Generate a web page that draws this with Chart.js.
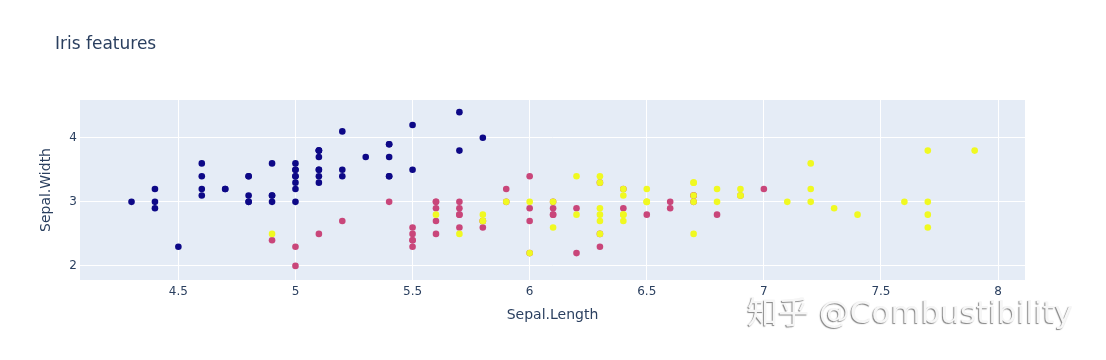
<!DOCTYPE html>
<html>
<head>
<meta charset="utf-8">
<script src="https://cdn.jsdelivr.net/npm/chart.js@4.4.1/dist/chart.umd.min.js"></script>
<style>
  body { margin: 0; background: #fff; }
  #wrap { position: relative; width: 1106px; height: 360px; }
  #title { position: absolute; left: 55px; top: 33px; font: 17px Verdana, "DejaVu Sans", sans-serif; color: #2a3f5f; }
  #mark { position: absolute; left: 747px; top: 287px; font: 31px "DejaVu Sans", "Noto Sans CJK SC", sans-serif; color: #f6f6f6;
          text-shadow: -1px 1px 1px rgba(80,80,80,0.7); white-space: nowrap; }
</style>
</head>
<body>
<div id="wrap">
  <canvas id="myChart" width="1106" height="360"></canvas>
  <div id="title">Iris features</div>
  <div id="mark">知乎 @Combustibility</div>
</div>
<script>
// iris: Sepal.Length / Sepal.Width per species
const setosaX = [5.1,4.9,4.7,4.6,5.0,5.4,4.6,5.0,4.4,4.9,5.4,4.8,4.8,4.3,5.8,5.7,5.4,5.1,5.7,5.1,5.4,5.1,4.6,5.1,4.8,5.0,5.0,5.2,5.2,4.7,4.8,5.4,5.2,5.5,4.9,5.0,5.5,4.9,4.4,5.1,5.0,4.5,4.4,5.0,5.1,4.8,5.1,4.6,5.3,5.0];
const setosaY = [3.5,3.0,3.2,3.1,3.6,3.9,3.4,3.4,2.9,3.1,3.7,3.4,3.0,3.0,4.0,4.4,3.9,3.5,3.8,3.8,3.4,3.7,3.6,3.3,3.4,3.0,3.4,3.5,3.4,3.2,3.1,3.4,4.1,4.2,3.1,3.2,3.5,3.6,3.0,3.4,3.5,2.3,3.2,3.5,3.8,3.0,3.8,3.2,3.7,3.3];
const versicolorX = [7.0,6.4,6.9,5.5,6.5,5.7,6.3,4.9,6.6,5.2,5.0,5.9,6.0,6.1,5.6,6.7,5.6,5.8,6.2,5.6,5.9,6.1,6.3,6.1,6.4,6.6,6.8,6.7,6.0,5.7,5.5,5.5,5.8,6.0,5.4,6.0,6.7,6.3,5.6,5.5,5.5,6.1,5.8,5.0,5.6,5.7,5.7,6.2,5.1,5.7];
const versicolorY = [3.2,3.2,3.1,2.3,2.8,2.8,3.3,2.4,2.9,2.7,2.0,3.0,2.2,2.9,2.9,3.1,3.0,2.7,2.2,2.5,3.2,2.8,2.5,2.8,2.9,3.0,2.8,3.0,2.9,2.6,2.4,2.4,2.7,2.7,3.0,3.4,3.1,2.3,3.0,2.5,2.6,3.0,2.6,2.3,2.7,3.0,2.9,2.9,2.5,2.8];
const virginicaX = [6.3,5.8,7.1,6.3,6.5,7.6,4.9,7.3,6.7,7.2,6.5,6.4,6.8,5.7,5.8,6.4,6.5,7.7,7.7,6.0,6.9,5.6,7.7,6.3,6.7,7.2,6.2,6.1,6.4,7.2,7.4,7.9,6.4,6.3,6.1,7.7,6.3,6.4,6.0,6.9,6.7,6.9,5.8,6.8,6.7,6.7,6.3,6.5,6.2,5.9];
const virginicaY = [3.3,2.7,3.0,2.9,3.0,3.0,2.5,2.9,2.5,3.6,3.2,2.7,3.0,2.5,2.8,3.2,3.0,3.8,2.6,2.2,3.2,2.8,2.8,2.7,3.3,3.2,2.8,3.0,2.8,3.0,2.8,3.8,2.8,2.8,2.6,3.0,3.4,3.1,3.0,3.1,3.1,3.1,2.7,3.2,3.3,3.0,2.5,3.0,3.4,3.0];

const xTicks = [4.5,5,5.5,6,6.5,7,7.5,8];
const yTicks = [2,3,4];

function pts(xs, ys){
    return xs.map((x, i) => ({x: x, y: ys[i]}));
}

const fontFam = 'Verdana, "DejaVu Sans", sans-serif';
const txt = '#2a3f5f';

// plot background like plotly
const bgPlugin = {
    id: 'plotBg',
    beforeDraw(chart){
        const a = chart.chartArea;
        const c = chart.ctx;
        c.save();
        c.fillStyle = '#e5ecf6';
        c.fillRect(a.left, a.top, a.right - a.left, a.bottom - a.top);
        c.restore();
    }
};

const ctx = document.getElementById('myChart').getContext('2d');
const chart = new Chart(ctx, {
    type: 'scatter',
    data: {
        datasets: [
            {label:'setosa', data: pts(setosaX, setosaY), backgroundColor:'#0d0887', order:2},
            {label:'versicolor', data: pts(versicolorX, versicolorY), backgroundColor:'#c9467a', order:1},
            {label:'virginica', data: pts(virginicaX, virginicaY), backgroundColor:'#f0f921', order:0}
        ]
    },
    options: {
        responsive: false,
        animation: false,
        layout: { padding: {left:0, right:81, top:100, bottom:0} },
        elements: { point: { radius:3.3, borderWidth:0, hoverRadius:3.3 } },
        plugins: { legend:{display:false}, tooltip:{enabled:false} },
        scales: {
            x: {
                type:'linear', min:4.08, max:8.115,
                afterBuildTicks: s => { s.ticks = xTicks.map(v => ({value:v})); },
                afterFit: s => { s.height = 80; },
                border: {display:false},
                grid: {color:'#ffffff', lineWidth:1, drawTicks:false},
                ticks: {color:txt, font:{family:fontFam, size:12}, padding:5, maxRotation:0, callback: v => String(v)},
                title: {display:true, text:'Sepal.Length', color:txt, font:{family:fontFam, size:14}, padding:{top:0, bottom:36}}
            },
            y: {
                type:'linear', min:1.78, max:4.59,
                afterBuildTicks: s => { s.ticks = yTicks.map(v => ({value:v})); },
                afterFit: s => { s.width = 80; },
                border: {display:false},
                grid: {color:'#ffffff', lineWidth:1, drawTicks:false},
                ticks: {color:txt, font:{family:fontFam, size:12}, padding:3, callback: v => String(v)},
                title: {display:true, text:'Sepal.Width', color:txt, font:{family:fontFam, size:14}, padding:{top:38, bottom:0}}
            }
        }
    },
    plugins: [bgPlugin]
});
</script>
</body>
</html>
